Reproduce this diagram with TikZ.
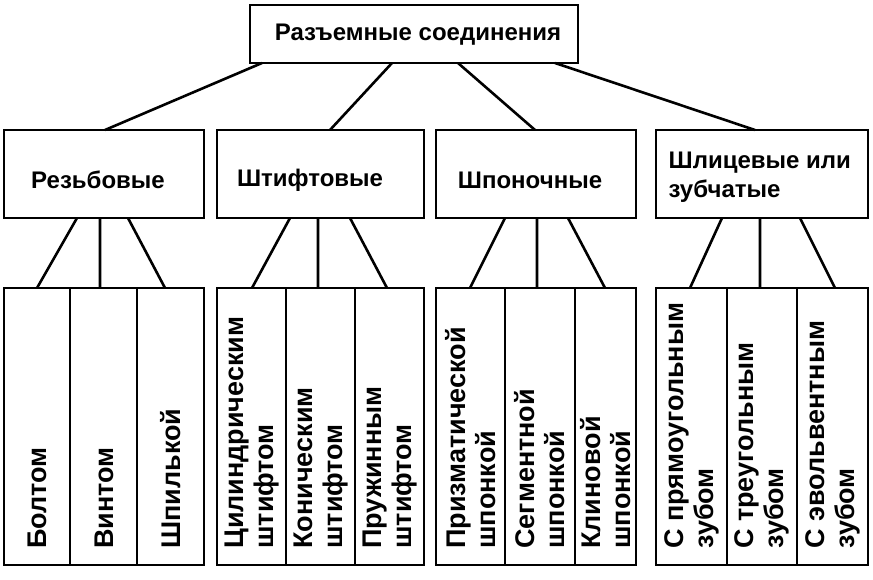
\documentclass[tikz,border=0pt]{standalone}
\usepackage{fontspec}
\setmainfont{Liberation Sans}
\begin{document}
\begin{tikzpicture}[x=1pt,y=-1pt,line width=2.6pt,
 lbl/.style={font=\fontsize{24}{29}\selectfont\bfseries},
 vt/.style={font=\fontsize{27}{30}\selectfont\bfseries,rotate=90,anchor=west,align=left,inner sep=0pt}]
\useasboundingbox (0,0) rectangle (873,580);
\draw (250,5) rectangle (578,63);
\node[lbl] (top) at (418,35) {Разъемные соединения};
% mid boxes
\draw (4,130) rectangle (204,218);
\draw (217,130) rectangle (424,218);
\draw (436,130) rectangle (636,218);
\draw (656,130) rectangle (868,218);
\node[lbl] (r) at (98,180) {Резьбовые};
\node[lbl] (s) at (310,180) {Штифтовые};
\node[lbl] (p) at (530,180) {Шпоночные};
\node[lbl,align=left,anchor=west] (z) at (664,177) {Шлицевые или\\зубчатые};
% top connectors
\coordinate (t1) at (262,63); \coordinate (m1) at (105,130);
\coordinate (t2) at (392,63); \coordinate (m2) at (330,130);
\coordinate (t3) at (458,63); \coordinate (m3) at (535,130);
\coordinate (t4) at (555,63); \coordinate (m4) at (755,130);
\draw (t1)--(m1) (t2)--(m2) (t3)--(m3) (t4)--(m4);
% bottom boxes
\foreach \a/\b/\c/\d in {4/70/137/204, 217/286/355/424, 436/505/575/636, 656/727/797/868}{
 \draw (\a,288) rectangle (\d,565);
 \draw (\b,288)--(\b,565) (\c,288)--(\c,565);
}
% group connectors
\foreach \x/\lb/\l/\m/\rb in {77/37/100/128/165, 290/252/318/350/387, 505/470/537/568/605, 722/690/760/800/835}{
 \draw (\x,218)--(\lb,288) (\l,218)--(\l,288) (\m,218)--(\rb,288);
}
% vertical texts
\node[vt] (b1) at (37,550) {Болтом};
\node[vt] (b2) at (104,550) {Винтом};
\node[vt] (b3) at (171,550) {Шпилькой};
\node[vt] (c1) at (252,550) {Цилиндрическим\\штифтом};
\node[vt] (c2) at (321,550) {Коническим\\штифтом};
\node[vt] (c3) at (390,550) {Пружинным\\штифтом};
\node[vt] (d1) at (471,550) {Призматической\\шпонкой};
\node[vt] (d2) at (540,550) {Сегментной\\шпонкой};
\node[vt] (d3) at (606,550) {Клиновой\\шпонкой};
\node[vt] (e1) at (692,550) {С прямоугольным\\зубом};
\node[vt] (e2) at (762,550) {С треугольным\\зубом};
\node[vt] (e3) at (833,550) {С эвольвентным\\зубом};
\end{tikzpicture}
\end{document}
